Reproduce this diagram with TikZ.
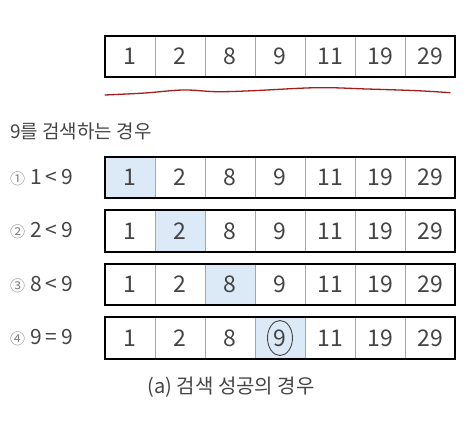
\documentclass[tikz,border=0pt]{standalone}
\usepackage{xcolor}
\usepackage{fontspec}
\setmainfont{Noto Sans CJK KR}
\usepackage{tikz}
\usetikzlibrary{positioning,backgrounds}

\definecolor{hitblue}{HTML}{DCEAF8}
\definecolor{txtgray}{HTML}{444444}
\definecolor{penred}{HTML}{A31F1F}

\tikzset{
  cell/.style={draw=gray!70, line width=0.6, minimum width=50, minimum height=41,
    inner sep=0, text=txtgray, font=\fontsize{23}{26}\selectfont},
  frame/.style={draw=black, line width=1.8},
  rowlabel/.style={anchor=west, inner sep=0, text=txtgray, font=\fontsize{21}{24}\selectfont},
}

\begin{document}
\begin{tikzpicture}[x=1pt, y=-1pt]
\useasboundingbox (0,0) rectangle (474,422);

% sorted array %
\foreach \v [count=\j] in {1,2,8,9,11,19,29} {
  \node[cell] (t-\j) at ({80+50*\j},56.5) {\v};
}
\draw[frame] (t-1.north west) rectangle (t-7.south east);

% red underline %
\draw[penred, line width=1.3, line cap=round] plot[smooth, tension=0.6] coordinates
  {(105,95) (145,93) (183,90) (217,91.7) (253,90.7) (317,87.7) (367,89) (417,90.7) (450,92.7)};

% title %
\node[rowlabel, font=\fontsize{19}{22}\selectfont] (title) at (10,131) {9를 검색하는 경우};

% search steps %
\foreach \r/\y/\lhs/\op/\mk in {1/177.5/1/</①, 2/231/2/</②, 3/284.5/8/</③, 4/338/9/=/④} {
  \node[rowlabel] (lab\r) at (10,\y) {{\color{gray}\fontsize{15}{17}\selectfont\mk}\hspace{5pt}\lhs\hspace{4pt}\op\hspace{4pt}9};
  \foreach \v [count=\j] in {1,2,8,9,11,19,29} {
    \node[cell] (c\r-\j) at ({80+50*\j},\y) {\v};
  }
  \begin{scope}[on background layer]
    \fill[hitblue] (c\r-\r.north west) rectangle (c\r-\r.south east);
  \end{scope}
  \draw[frame] (c\r-1.north west) rectangle (c\r-7.south east);
}

% found %
\draw[txtgray, line width=0.9] (c4-4) ellipse (12.5 and 17.5);

% caption %
\node[text=txtgray, font=\fontsize{20}{23}\selectfont] (caption) at (231,387) {(a) 검색 성공의 경우};

\end{tikzpicture}
\end{document}
